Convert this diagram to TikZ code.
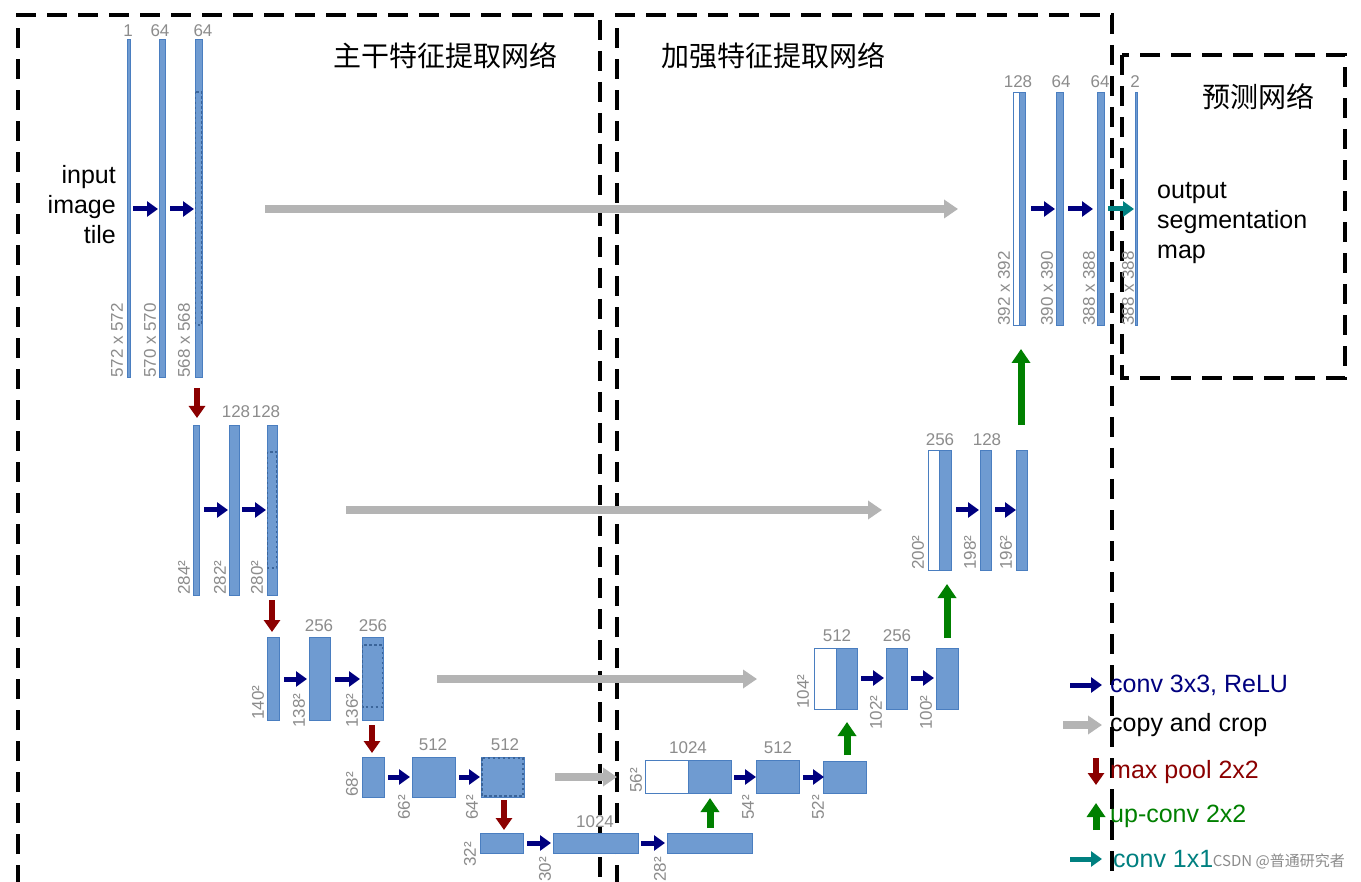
\documentclass[tikz,border=0pt]{standalone}
\usepackage{fontspec}
\setmainfont{Liberation Sans}
\newfontfamily\cjk{Noto Sans CJK SC}
\usetikzlibrary{arrows.meta}
\definecolor{fblue}{HTML}{6F9BD1}
\definecolor{dblue}{HTML}{4A7EC0}
\definecolor{navy}{HTML}{00007F}
\definecolor{dred}{HTML}{8B0000}
\definecolor{dgreen}{HTML}{008000}
\definecolor{teal2}{HTML}{008080}
\definecolor{lgray}{HTML}{B4B4B4}
\definecolor{tgray}{HTML}{8C8C8C}
\tikzset{
 fm/.style={fill=fblue,draw=dblue,line width=1pt},
 wm/.style={fill=white,draw=dblue,line width=1pt},
 dotm/.style={draw=dblue!80!black,line width=1.6pt,dash pattern=on 2.5pt off 2.5pt},
 conv/.style={navy,line width=5pt,-{Triangle[length=11pt,width=15pt]}},
 copyc/.style={lgray,line width=8pt,-{Triangle[length=14pt,width=18pt]}},
 pool/.style={dred,line width=6pt,-{Triangle[length=12pt,width=16pt]}},
 upc/.style={dgreen,line width=7pt,-{Triangle[length=14pt,width=18pt]}},
 c11/.style={teal2,line width=5pt,-{Triangle[length=11pt,width=15pt]}},
 num/.style={text=tgray,font=\fontsize{17}{17}\selectfont,inner sep=0pt},
 rnum/.style={num,rotate=90,anchor=west},
 bx/.style={black,line width=4.5pt,dash pattern=on 20pt off 11pt},
 big/.style={font=\fontsize{25}{30}\selectfont,inner sep=0pt},
 leg/.style={font=\fontsize{25}{25}\selectfont,anchor=west,inner sep=0pt},
 title/.style={font=\cjk\fontsize{28}{28}\selectfont,inner sep=0pt}
}
\newcommand\blk[4]{\draw[fm] (#1,#3) rectangle (#2,#4);}
\newcommand\wblk[4]{\draw[wm] (#1,#3) rectangle (#2,#4);}
\newcommand\dotb[4]{\draw[dotm] (#1,#3) rectangle (#2,#4);}
\begin{document}
\begin{tikzpicture}[x=1pt,y=-1pt]
\useasboundingbox[fill=white] (0,0) rectangle (1361,882);
% dashed boxes
\draw[bx] (18,885) -- (18,15) -- (600,15) -- (600,885);
\draw[bx] (617,885) -- (617,15) -- (1112,15) -- (1112,885);
\draw[bx] (1122,55) rectangle (1345,378);
\node[title] (t1) at (445,56) {主干特征提取网络};
\node[title] (t2) at (773,56) {加强特征提取网络};
\node[title] (t3) at (1258,97) {预测网络};
% level 1 down
\blk{127}{130}{40}{378}
\blk{159}{165}{40}{378}
\blk{195}{202}{40}{378}
\dotb{195.5}{201.5}{92}{325}
\node[num] at (128,31) {1};
\node[num] at (160,31) {64};
\node[num] at (203,31) {64};
\node[rnum] at (117,378) {572 x 572};
\node[rnum] at (150,378) {570 x 570};
\node[rnum] at (184,378) {568 x 568};
\node[big,align=right,anchor=east] (in) at (116,205) {input\\image\\tile};
\draw[conv] (133,209) -- (158,209);
\draw[conv] (170,209) -- (194,209);
\draw[copyc] (265,209) -- (958,209);
\draw[pool] (197,388) -- (197,418);
% level 2
\blk{193}{199}{426}{595}
\blk{229}{239}{426}{595}
\blk{267}{277}{426}{595}
\dotb{267.5}{276.5}{452}{568}
\node[num] at (236,412) {128};
\node[num] at (266,412) {128};
\node[rnum] at (184,595) {284²};
\node[rnum] at (220,595) {282²};
\node[rnum] at (257,595) {280²};
\draw[conv] (204,510) -- (228,510);
\draw[conv] (242,510) -- (266,510);
\draw[copyc] (346,510) -- (882,510);
\draw[pool] (272,600) -- (272,632);
% level 3
\blk{267}{279}{637}{720}
\blk{309}{330}{637}{720}
\blk{362}{383}{637}{720}
\dotb{362.5}{382.5}{645}{707}
\node[num] at (319,626) {256};
\node[num] at (373,626) {256};
\node[rnum] at (258,720) {140²};
\node[rnum] at (299,728) {138²};
\node[rnum] at (352,728) {136²};
\draw[conv] (284,679) -- (307,679);
\draw[conv] (335,679) -- (360,679);
\draw[copyc] (437,679) -- (757,679);
\draw[pool] (372,725) -- (372,753);
% level 4
\blk{362}{384}{757}{797}
\blk{412}{455}{757}{797}
\blk{481}{524}{757}{797}
\dotb{482}{523}{758}{796}
\node[num] at (433,745) {512};
\node[num] at (505,745) {512};
\node[rnum] at (352,797) {68²};
\node[rnum] at (404,820) {66²};
\node[rnum] at (472,820) {64²};
\draw[conv] (388,777) -- (410,777);
\draw[conv] (459,777) -- (480,777);
\draw[copyc] (555,777) -- (617,777);
\draw[pool] (504,800) -- (504,830);
% level 5
\blk{480}{523}{833}{853}
\blk{553}{638}{833}{853}
\blk{667}{752}{833}{853}
\node[num] at (595,822) {1024};
\node[rnum] at (470,867) {32²};
\node[rnum] at (545,882) {30²};
\node[rnum] at (660,882) {28²};
\draw[conv] (527,843) -- (551,843);
\draw[conv] (641,843) -- (665,843);
\draw[upc] (710,828) -- (710,798);
% up level 4
\wblk{645}{688}{760}{793}
\blk{688}{731}{760}{793}
\blk{756}{799}{760}{793}
\blk{823}{866}{761}{793}
\node[num] at (688,748) {1024};
\node[num] at (778,748) {512};
\node[rnum] at (636,793) {56²};
\node[rnum] at (748,820) {54²};
\node[rnum] at (818,820) {52²};
\draw[conv] (734,777) -- (756,777);
\draw[conv] (803,777) -- (824,777);
\draw[upc] (847,755) -- (847,722);
% up level 3
\wblk{814}{836}{648}{709}
\blk{836}{857}{648}{709}
\blk{886}{907}{648}{709}
\blk{936}{958}{648}{709}
\node[num] at (837,636) {512};
\node[num] at (897,636) {256};
\node[rnum] at (803,709) {104²};
\node[rnum] at (876,730) {102²};
\node[rnum] at (926,730) {100²};
\draw[conv] (861,678) -- (884,678);
\draw[conv] (911,678) -- (934,678);
\draw[upc] (947,638) -- (947,584);
% up level 2
\wblk{928}{939}{451}{570}
\blk{939}{951}{451}{570}
\blk{980}{991}{451}{570}
\blk{1016}{1027}{451}{570}
\node[num] at (940,440) {256};
\node[num] at (987,440) {128};
\node[rnum] at (918,570) {200²};
\node[rnum] at (970,570) {198²};
\node[rnum] at (1006,570) {196²};
\draw[conv] (956,510) -- (979,510);
\draw[conv] (995,510) -- (1016,510);
\draw[upc] (1021,425) -- (1021,349);
% up level 1
\wblk{1013}{1019}{93}{326}
\blk{1019}{1025}{93}{326}
\blk{1056}{1063}{93}{326}
\blk{1097}{1104}{93}{326}
\blk{1135}{1137}{93}{326}
\node[num] at (1018,82) {128};
\node[num] at (1061,82) {64};
\node[num] at (1100,82) {64};
\node[num] at (1135,82) {2};
\node[rnum] at (1004,326) {392 x 392};
\node[rnum] at (1047,326) {390 x 390};
\node[rnum] at (1089,326) {388 x 388};
\node[rnum] at (1128,326) {388 x 388};
\draw[conv] (1031,209) -- (1055,209);
\draw[conv] (1068,209) -- (1093,209);
\draw[c11] (1108,209) -- (1134,209);
\node[big,align=left,anchor=west] (out) at (1157,223) {output\\segmentation\\map};
% legend
\draw[conv] (1070,685) -- (1102,685);
\node[leg,text=navy] (l1) at (1110,685) {conv 3x3, ReLU};
\draw[copyc] (1063,725) -- (1102,725);
\node[leg] (l2) at (1110,725) {copy and crop};
\draw[pool] (1096,758) -- (1096,785);
\node[leg,text=dred] (l3) at (1110,772) {max pool 2x2};
\draw[upc] (1096,830) -- (1096,803);
\node[leg,text=dgreen] (l4) at (1110,816) {up-conv 2x2};
\draw[c11] (1070,859) -- (1102,859);
\node[leg,text=teal2] (l5) at (1113,859) {conv 1x1};
\node[font=\cjk\fontsize{15}{15}\selectfont,text=tgray,anchor=east,inner sep=0pt] (wm) at (1345,861) {CSDN @普通研究者};
\end{tikzpicture}
\end{document}
